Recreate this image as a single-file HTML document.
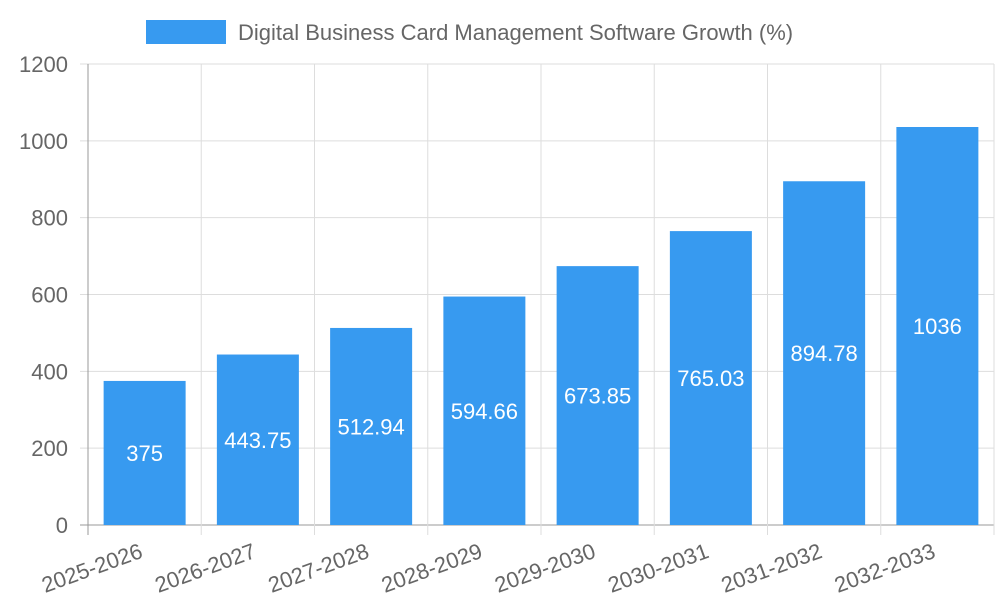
<!DOCTYPE html>
<html><head><meta charset="utf-8"><style>
body{margin:0;background:#fff;}
svg text{font-family:"Liberation Sans",sans-serif;}
</style></head><body>
<svg id="chart" width="1000" height="600">
<rect x="146" y="20" width="80" height="24" fill="#379af0"/>
<text x="238" y="40" font-size="22" fill="#666">Digital Business Card Management Software Growth (%)</text>
<g id="grid"></g><g id="bars"></g><g id="labels"></g>
</svg>
<script>
const categories=["2025-2026","2026-2027","2027-2028","2028-2029","2029-2030","2030-2031","2031-2032","2032-2033"];
const values=[375,443.75,512.94,594.66,673.85,765.03,894.78,1036];
const valueLabels=["375","443.75","512.94","594.66","673.85","765.03","894.78","1036"];
const yTicks=[0,200,400,600,800,1000,1200];
const X0=88,X1=994,Y0=525,Y1=64,YMAX=1200;
const ns="http://www.w3.org/2000/svg";
const bw=(X1-X0)/categories.length;
const y=v=>Y0-(v/YMAX)*(Y0-Y1);
const x=i=>X0+i*bw;
function mk(t,a,p){const e=document.createElementNS(ns,t);for(const k in a)e.setAttribute(k,a[k]);p.appendChild(e);return e;}
const g=document.getElementById('grid'),b=document.getElementById('bars'),l=document.getElementById('labels');
yTicks.forEach(t=>{
 const ln=mk('line',{x1:X0-8,x2:X1,y1:y(t),y2:y(t),stroke:t===0?'#999':'#ddd','stroke-width':1},g);
 
 
 const tx=mk('text',{x:X0-20,y:y(t)+8,'text-anchor':'end','font-size':22,fill:'#666'},g);
 tx.textContent=t;
 
 
});
for(let i=0;i<=categories.length;i++){
 const ln=mk('line',{x1:x(i),x2:x(i),y1:Y1,y2:Y0+10,stroke:i===0?'#999':'#ddd','stroke-width':1},g);
 
 
}
categories.forEach((c,i)=>{
 const cx=x(i)+bw/2,w=82;
 const r=mk('rect',{x:cx-w/2,y:y(values[i]),width:w,height:Y0-y(values[i]),fill:'#379af0'},b);
 
 
 const v=mk('text',{x:cx,y:(y(values[i])+Y0)/2+8,'text-anchor':'middle','font-size':22,fill:'#fff'},l);
 v.textContent=valueLabels[i];
 
 
 const ty=Y0+32,tx0=x(i)+56;
 const t=mk('text',{x:tx0,y:ty,'text-anchor':'end','font-size':22,fill:'#666',transform:`rotate(-20 ${tx0} ${ty})`},l);
 t.textContent=c;
 
 
});
</script>
</body></html>
